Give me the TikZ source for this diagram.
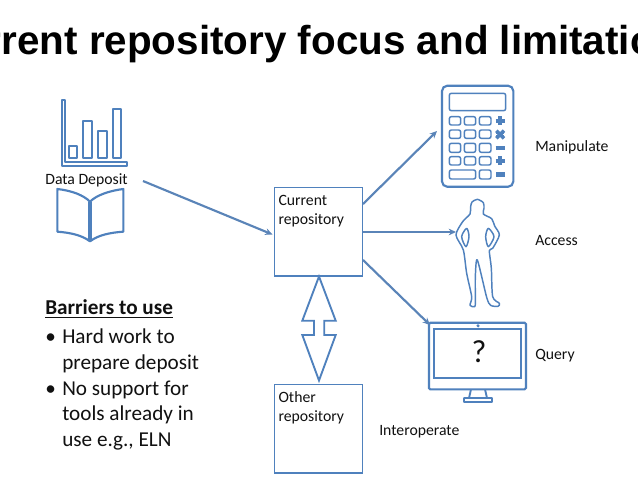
\documentclass[tikz,border=0pt]{standalone}
\usepackage{fontspec}
\setmainfont{Carlito}
\newfontfamily\titlefont{Liberation Sans}
\usetikzlibrary{arrows.meta}
\definecolor{blu}{HTML}{4F81BD}
\definecolor{arr}{HTML}{5A84B8}
\definecolor{ink}{HTML}{111111}
\tikzset{
 x=0.75pt,y=-0.75pt,
 icon/.style={draw=blu,line width=1.6pt,line join=round},
 thin icon/.style={draw=blu,line width=1.4pt,line join=round},
 repo/.style={draw=blu,line width=1.4pt,minimum width=66pt,minimum height=66.5pt,inner sep=0pt,outer sep=0pt},
 conn/.style={draw=arr,line width=1.6pt,-{Stealth[length=5.5pt,width=5pt]}},
 lab/.style={font=\fontsize{11.8}{14.3}\selectfont,text=ink,inner sep=0pt,align=left},
 body/.style={font=\fontsize{15.9}{19.2}\selectfont,text=ink,inner sep=0pt,align=left},
 key/.style={draw=blu,line width=1.1pt,rounded corners=1.5pt},
}
\begin{document}
\begin{tikzpicture}
\useasboundingbox (0,0) rectangle (638,478);
\clip (0,0) rectangle (638,478);
\fill[white] (0,0) rectangle (638,478);
% title
\node[font=\titlefont\bfseries\fontsize{30.3}{33}\selectfont,text=black,inner sep=0pt,anchor=base] (title) at (317,54.8) {Current repository focus and limitations};
% repositories
\node[repo,anchor=north west] (cur) at (274.5,187.5) {};
\node[repo,anchor=north west] (oth) at (274.5,384.5) {};
\node[lab,anchor=north west] (curt) at (278.3,195) {Current\\repository};
\node[lab,anchor=north west] (otht) at (278.3,391.7) {Other\\repository};
% double arrow
\draw[thin icon,line join=miter] (319,276.5) -- (335.7,320.7) -- (324.3,320.7) -- (324.3,335) -- (335.7,335) -- (319,380.5) -- (302.3,335) -- (314,335) -- (314,320.7) -- (302.3,320.7) -- cycle;
% chart
\begin{scope}[shift={(30,80)},scale=1/3]
\draw[icon] (95,60)--(105,60)--(105,245)--(292,245)--(292,257)--(95,257)--cycle;
\draw[icon] (116,197) rectangle (142,233);
\draw[icon] (160,122) rectangle (186,233);
\draw[icon] (204,152) rectangle (230,233);
\draw[icon] (248,88) rectangle (272,233);
% book
\draw[icon] (82,327) .. controls (125,332) and (160,345) .. (180,365) .. controls (200,345) and (240,332) .. (280,327) -- (280,455) .. controls (240,458) and (205,465) .. (180,484) .. controls (155,465) and (120,458) .. (82,455) -- cycle;
\draw[draw=blu,line width=2.6pt] (180,365) -- (180,484);
\end{scope}
% calculator
\node[draw=blu,line width=1.6pt,rounded corners=4pt,minimum width=53.5pt,minimum height=75.8pt,inner sep=0pt,outer sep=0pt,anchor=north west] (calc) at (442,85.7) {};
\begin{scope}[shift={(430,75)},scale=1/3]
\draw[key] (58,55) rectangle (227,107);
\foreach \yt/\yb in {125/150,165/190,205/232,245/270}{
 \draw[key] (58,\yt) rectangle (92,\yb);
 \draw[key] (103,\yt) rectangle (137,\yb);
 \draw[key] (148,\yt) rectangle (183,\yb);
}
\draw[key] (58,285) rectangle (137,312);
\draw[key] (148,285) rectangle (183,312);
\fill[blu] (197,290) rectangle (224,306);
\foreach \yc in {137,257}{
 \draw[blu,line width=3pt] (197,\yc) -- (224,\yc) (210.5,\yc-13) -- (210.5,\yc+13);
}
\draw[blu,line width=2.6pt] (199,167) -- (222,190) (222,167) -- (199,190);
\draw[blu,line width=1.6pt] (199,174) -- (222,174) (199,183) -- (222,183);
\draw[blu,line width=3pt] (197,218) -- (224,218);
\end{scope}
% person
\begin{scope}[shift={(420,190)},scale=1/3]
\draw[thin icon,line width=1.1pt] plot[smooth cycle,tension=0.45] coordinates {(172,28)(190,38)(192,55)(190,72)(215,86)(224,108)(238,135)(218,175)(208,182)(214,235)(218,320)(238,340)(234,349)(212,346)(200,322)(172,210)(166,260)(166,335)(164,350)(150,346)(155,320)(140,250)(130,180)(108,135)(128,95)(150,72)(152,50)(156,36)};
\draw[thin icon,line width=1.1pt] plot[smooth cycle,tension=0.5] coordinates {(140,115)(125,140)(138,170)(147,140)};
\draw[thin icon,line width=1.1pt] plot[smooth cycle,tension=0.5] coordinates {(205,115)(222,140)(205,170)(197,140)};
\end{scope}
\coordinate (personL) at (456,232);
% monitor
\node[draw=blu,line width=1.6pt,rounded corners=1pt,minimum width=72.7pt,minimum height=50pt,inner sep=0pt,outer sep=0pt,anchor=north west] (mon) at (429,322.7) {};
\node[draw=blu,line width=1.5pt,minimum width=64.8pt,minimum height=36.7pt,inner sep=0pt,outer sep=0pt,anchor=north west] (scr) at (434.3,329.3) {};
\fill[blu] (478,325.8) circle (1.7);
\draw[thin icon] (471,389.3) -- (469,398) (464,398) rectangle (492,402) (485,389.3) -- (487,398);
\node[font=\fontsize{24}{26}\selectfont,text=ink,inner sep=0pt] (q) at (479,352) {?};
% text
\node[lab,anchor=center] (dd) at (86.5,180.5) {Data Deposit};
\node[lab,anchor=west] (man) at (535,147) {Manipulate};
\node[lab,anchor=west] (acc) at (535,241) {Access};
\node[lab,anchor=west] (qry) at (535,356) {Query};
\node[lab,anchor=west] (int) at (379,432) {Interoperate};
\node[body,anchor=base west] (bar) at (45,314) {\bfseries Barriers to use};
\draw[ink,line width=0.9pt] (45,317.5) -- (173,317.5);
\node[body,anchor=base west] (b1) at (45,343) {•};
\node[body,anchor=base west] (t1) at (62,343) {Hard work to};
\node[body,anchor=base west] (t1b) at (62,369) {prepare deposit};
\node[body,anchor=base west] (b2) at (45,395) {•};
\node[body,anchor=base west] (t2) at (62,395) {No support for};
\node[body,anchor=base west] (t2b) at (62,420.7) {tools already in};
\node[body,anchor=base west] (t2c) at (62,446) {use e.g., ELN};
% connectors
\coordinate (ddE) at (143,181);
\coordinate (curIn) at (272.5,234.5);
\coordinate (cA) at (363,204);
\coordinate (cB) at (363,232);
\coordinate (cC) at (363,260);
\coordinate (calcIn) at (437,131);
\coordinate (monIn) at (430,325);
\draw[conn] (ddE) -- (curIn);
\draw[conn] (cA) -- (calcIn);
\draw[conn] (cB) -- (personL);
\draw[conn] (cC) -- (monIn);
\end{tikzpicture}
\end{document}
